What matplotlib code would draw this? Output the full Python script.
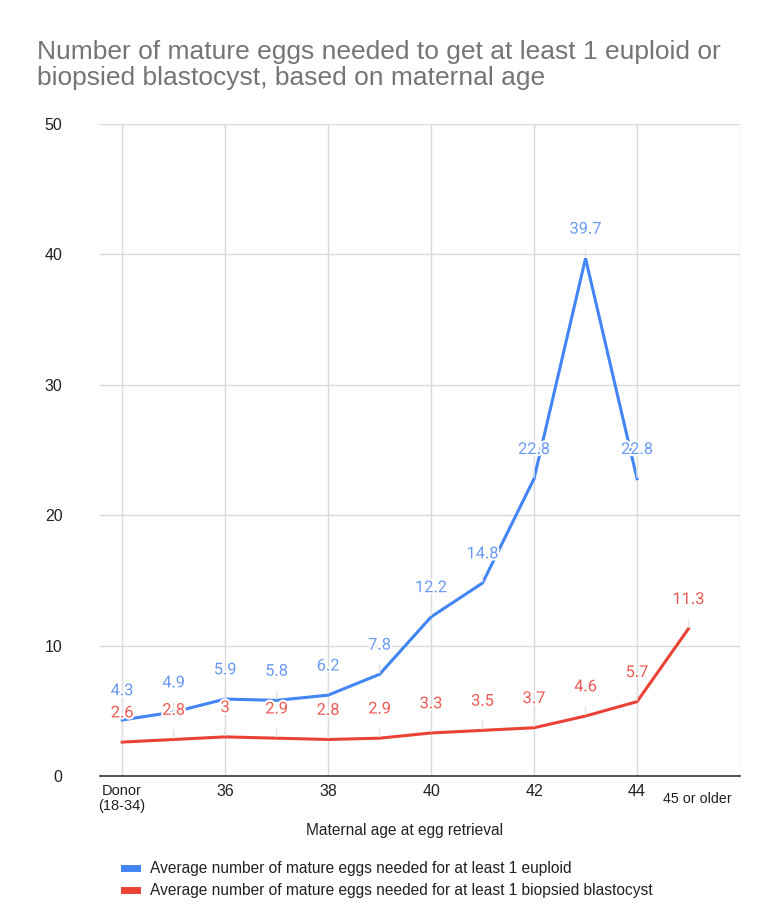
import matplotlib
matplotlib.use("Agg")
import matplotlib.pyplot as plt
import matplotlib.patheffects as pe
from matplotlib.lines import Line2D
import numpy as np

categories = ["Donor\n(18-34)", "35", "36", "37", "38", "39", "40", "41", "42", "43", "44", "45 or older"]
euploid = [4.3, 4.9, 5.9, 5.8, 6.2, 7.8, 12.2, 14.8, 22.8, 39.7, 22.8, None]
biopsied = [2.6, 2.8, 3.0, 2.9, 2.8, 2.9, 3.3, 3.5, 3.7, 4.6, 5.7, 11.3]
euploid_labels = ["4.3", "4.9", "5.9", "5.8", "6.2", "7.8", "12.2", "14.8", "22.8", "39.7", "22.8", None]
biopsied_labels = ["2.6", "2.8", "3", "2.9", "2.8", "2.9", "3.3", "3.5", "3.7", "4.6", "5.7", "11.3"]
shown_ticks = [0, 2, 4, 6, 8, 10]
yticks = [0, 10, 20, 30, 40, 50]

title = "Number of mature eggs needed to get at least 1 euploid or\nbiopsied blastocyst, based on maternal age"
xlabel = "Maternal age at egg retrieval"
leg_names = ["Average number of mature eggs needed for at least 1 euploid",
             "Average number of mature eggs needed for at least 1 biopsied blastocyst"]

BLUE = "#4285F4"
RED = "#EA4335"
BLUE_T = "#6b9af3"
RED_T = "#ec5b55"
FAM = ["Liberation Sans", "DejaVu Sans"]

fig = plt.figure(figsize=(7.68, 9.23), dpi=100)
ax = fig.add_axes([100/768, 1-776/923, 640/768, (776-124)/923])

x = np.arange(len(categories))
ey = np.array([np.nan if v is None else v for v in euploid], dtype=float)
by = np.array(biopsied, dtype=float)

ax.plot(x, ey, color=BLUE, lw=2.2, solid_joinstyle="miter", zorder=3)
ax.plot(x, by, color=RED, lw=2.2, solid_joinstyle="miter", zorder=3)

halo = [pe.withStroke(linewidth=3, foreground="white")]
def annotate(vals, labels, col):
    for xi, v, lab in zip(x, vals, labels):
        if lab is None:
            continue
        ax.annotate(lab, xy=(xi, v), xytext=(0, 21), textcoords="offset points",
                    ha="center", va="center", color=col, fontsize=11.8,
                    family=["Roboto", "DejaVu Sans"], zorder=5, path_effects=halo,
                    arrowprops=dict(arrowstyle="-", color="#e4e4e4", lw=1,
                                    shrinkA=7, shrinkB=1))
annotate(ey, euploid_labels, BLUE_T)
annotate(by, biopsied_labels, RED_T)

ax.set_xlim(-0.43, 12.0)
ax.set_ylim(0, 50)
ax.set_yticks(yticks)
ax.set_xticks(shown_ticks + [12])
ax.set_xticklabels([categories[i] for i in shown_ticks] + [""])
ax.grid(True, color="#d9d9d9", lw=1)
ax.set_axisbelow(True)
for s in ["top", "right", "left"]:
    ax.spines[s].set_visible(False)
ax.spines["bottom"].set_color("#333333")
ax.spines["bottom"].set_linewidth(1.2)
ax.spines["bottom"].set_zorder(4)
ax.tick_params(length=0, labelsize=11.5, labelcolor="#222222")
ax.tick_params(axis="x", pad=6)
ax.tick_params(axis="y", pad=27)
for lab in ax.get_xticklabels() + ax.get_yticklabels():
    lab.set_family(FAM)
ax.get_xticklabels()[0].set_fontsize(10.5)
ax.get_xticklabels()[0].set_linespacing(1.05)
ax.text(11.18, -1.2, categories[11], ha="center", va="top", fontsize=10.3,
        color="#222222", family=FAM)

fig.text(37/768, 1-40/923, title, ha="left", va="top", fontsize=19,
         color="#757575", family=FAM, linespacing=1.08)
fig.text(405/768, 1-830/923, xlabel, ha="center", va="center", fontsize=11.2,
         color="#222222", family=FAM)

handles = [Line2D([0], [0], color=BLUE, lw=5), Line2D([0], [0], color=RED, lw=5)]
fig.legend(handles, leg_names, loc="upper left", bbox_to_anchor=(110/768, 1-847/923),
           frameon=False, handlelength=0.85, handletextpad=0.8, labelspacing=0.45,
           prop=dict(family=FAM, size=11.2), labelcolor="#222222")

fig.savefig("out.png", dpi=100, facecolor="white")
